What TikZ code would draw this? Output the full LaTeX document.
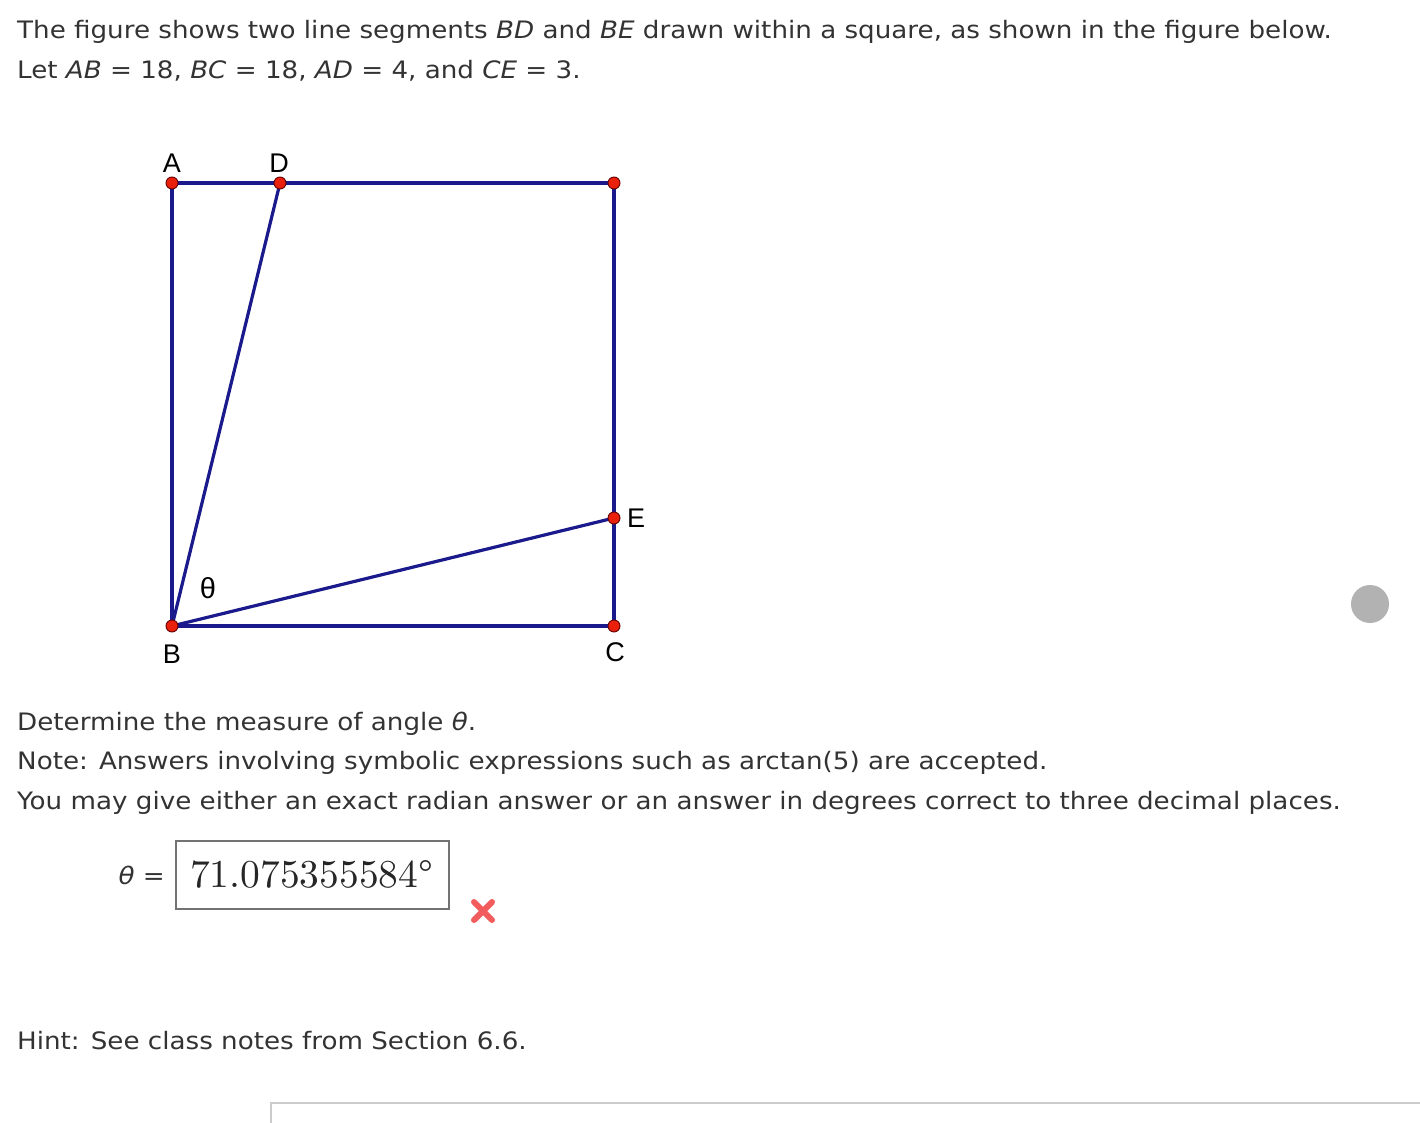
\documentclass[tikz,border=0pt]{standalone}
\usepackage{fontspec}
\setmainfont[FakeStretch=1.09]{DejaVu Sans}
\newfontfamily\labfont{Liberation Sans}
\newfontfamily\lmr{lmroman10-regular.otf}
\definecolor{txt}{HTML}{333333}
\definecolor{navy}{HTML}{1A1A8C}
\definecolor{ptred}{HTML}{E8200C}
\definecolor{xred}{HTML}{F25C5C}
\begin{document}
\begin{tikzpicture}[x=1pt,y=-1pt,
  body/.style={anchor=base west, inner sep=0, text=txt, font=\fontsize{24}{28}\selectfont},
  seg/.style={draw=navy, line width=3.2},
  dot/.style={circle, fill=ptred, draw=black!60!red, line width=0.9, minimum size=12, inner sep=0},
  lab/.style={font=\labfont\fontsize{27}{30}\selectfont, text=black, inner sep=0}]
\useasboundingbox[fill=white] (0,0) rectangle (1420,1123);
% text
\node[body] (t1) at (17,39) {The figure shows two line segments \textit{BD} and \textit{BE} drawn within a square, as shown in the figure below.};
\node[body] (t2) at (17,79) {Let \textit{AB} = 18, \textit{BC} = 18, \textit{AD} = 4, and \textit{CE} = 3.};
\node[body] (t3) at (17,730) {Determine the measure of angle \textit{θ}.};
\node[body] (t4) at (17,769) {Note: Answers involving symbolic expressions such as arctan(5) are accepted.};
\node[body] (t5) at (17,809) {You may give either an exact radian answer or an answer in degrees correct to three decimal places.};
\node[body] (t6) at (17,1049) {Hint: See class notes from Section 6.6.};
% figure
\coordinate (A) at (172,183);
\coordinate (D) at (280,183);
\coordinate (F) at (614,183);
\coordinate (E) at (614,518);
\coordinate (C) at (614,626);
\coordinate (B) at (172,626);
\draw[seg] (A) -- (F) -- (C) -- (B) -- cycle;
\draw[seg] (B) -- (D);
\draw[seg] (B) -- (E);
\foreach \p in {A,D,F,E,C,B} \node[dot] (\p dot) at (\p) {};
\node[lab] (lA) at (172,163) {A};
\node[lab] (lD) at (279,163) {D};
\node[lab] (lE) at (636,518) {E};
\node[lab] (lC) at (615,652) {C};
\node[lab] (lB) at (172,654) {B};
\node[lab, font=\labfont\fontsize{29}{30}\selectfont] (lth) at (208,588) {θ};
% answer
\node[draw=black!55, line width=1.8, minimum width=273, minimum height=68, inner sep=0] (ans) at (312.5,875) {};
\node[anchor=base west, inner sep=0, font=\lmr\fontsize{39.5}{40}\selectfont, text=black!85] (val) at (190,887) {71.075355584°};
\node[body, anchor=base east] (eq) at (165,884) {\textit{θ} =};
\draw[xred, line width=6, line cap=round] (474,902) -- (492,920) (492,902) -- (474,920);
% gray circle
\node[circle, fill=black!30, minimum size=38, inner sep=0] (gc) at (1370,604) {};
% bottom rule
\draw[black!20, line width=2] (271,1123) -- (271,1103) -- (1420,1103);
\end{tikzpicture}
\end{document}
